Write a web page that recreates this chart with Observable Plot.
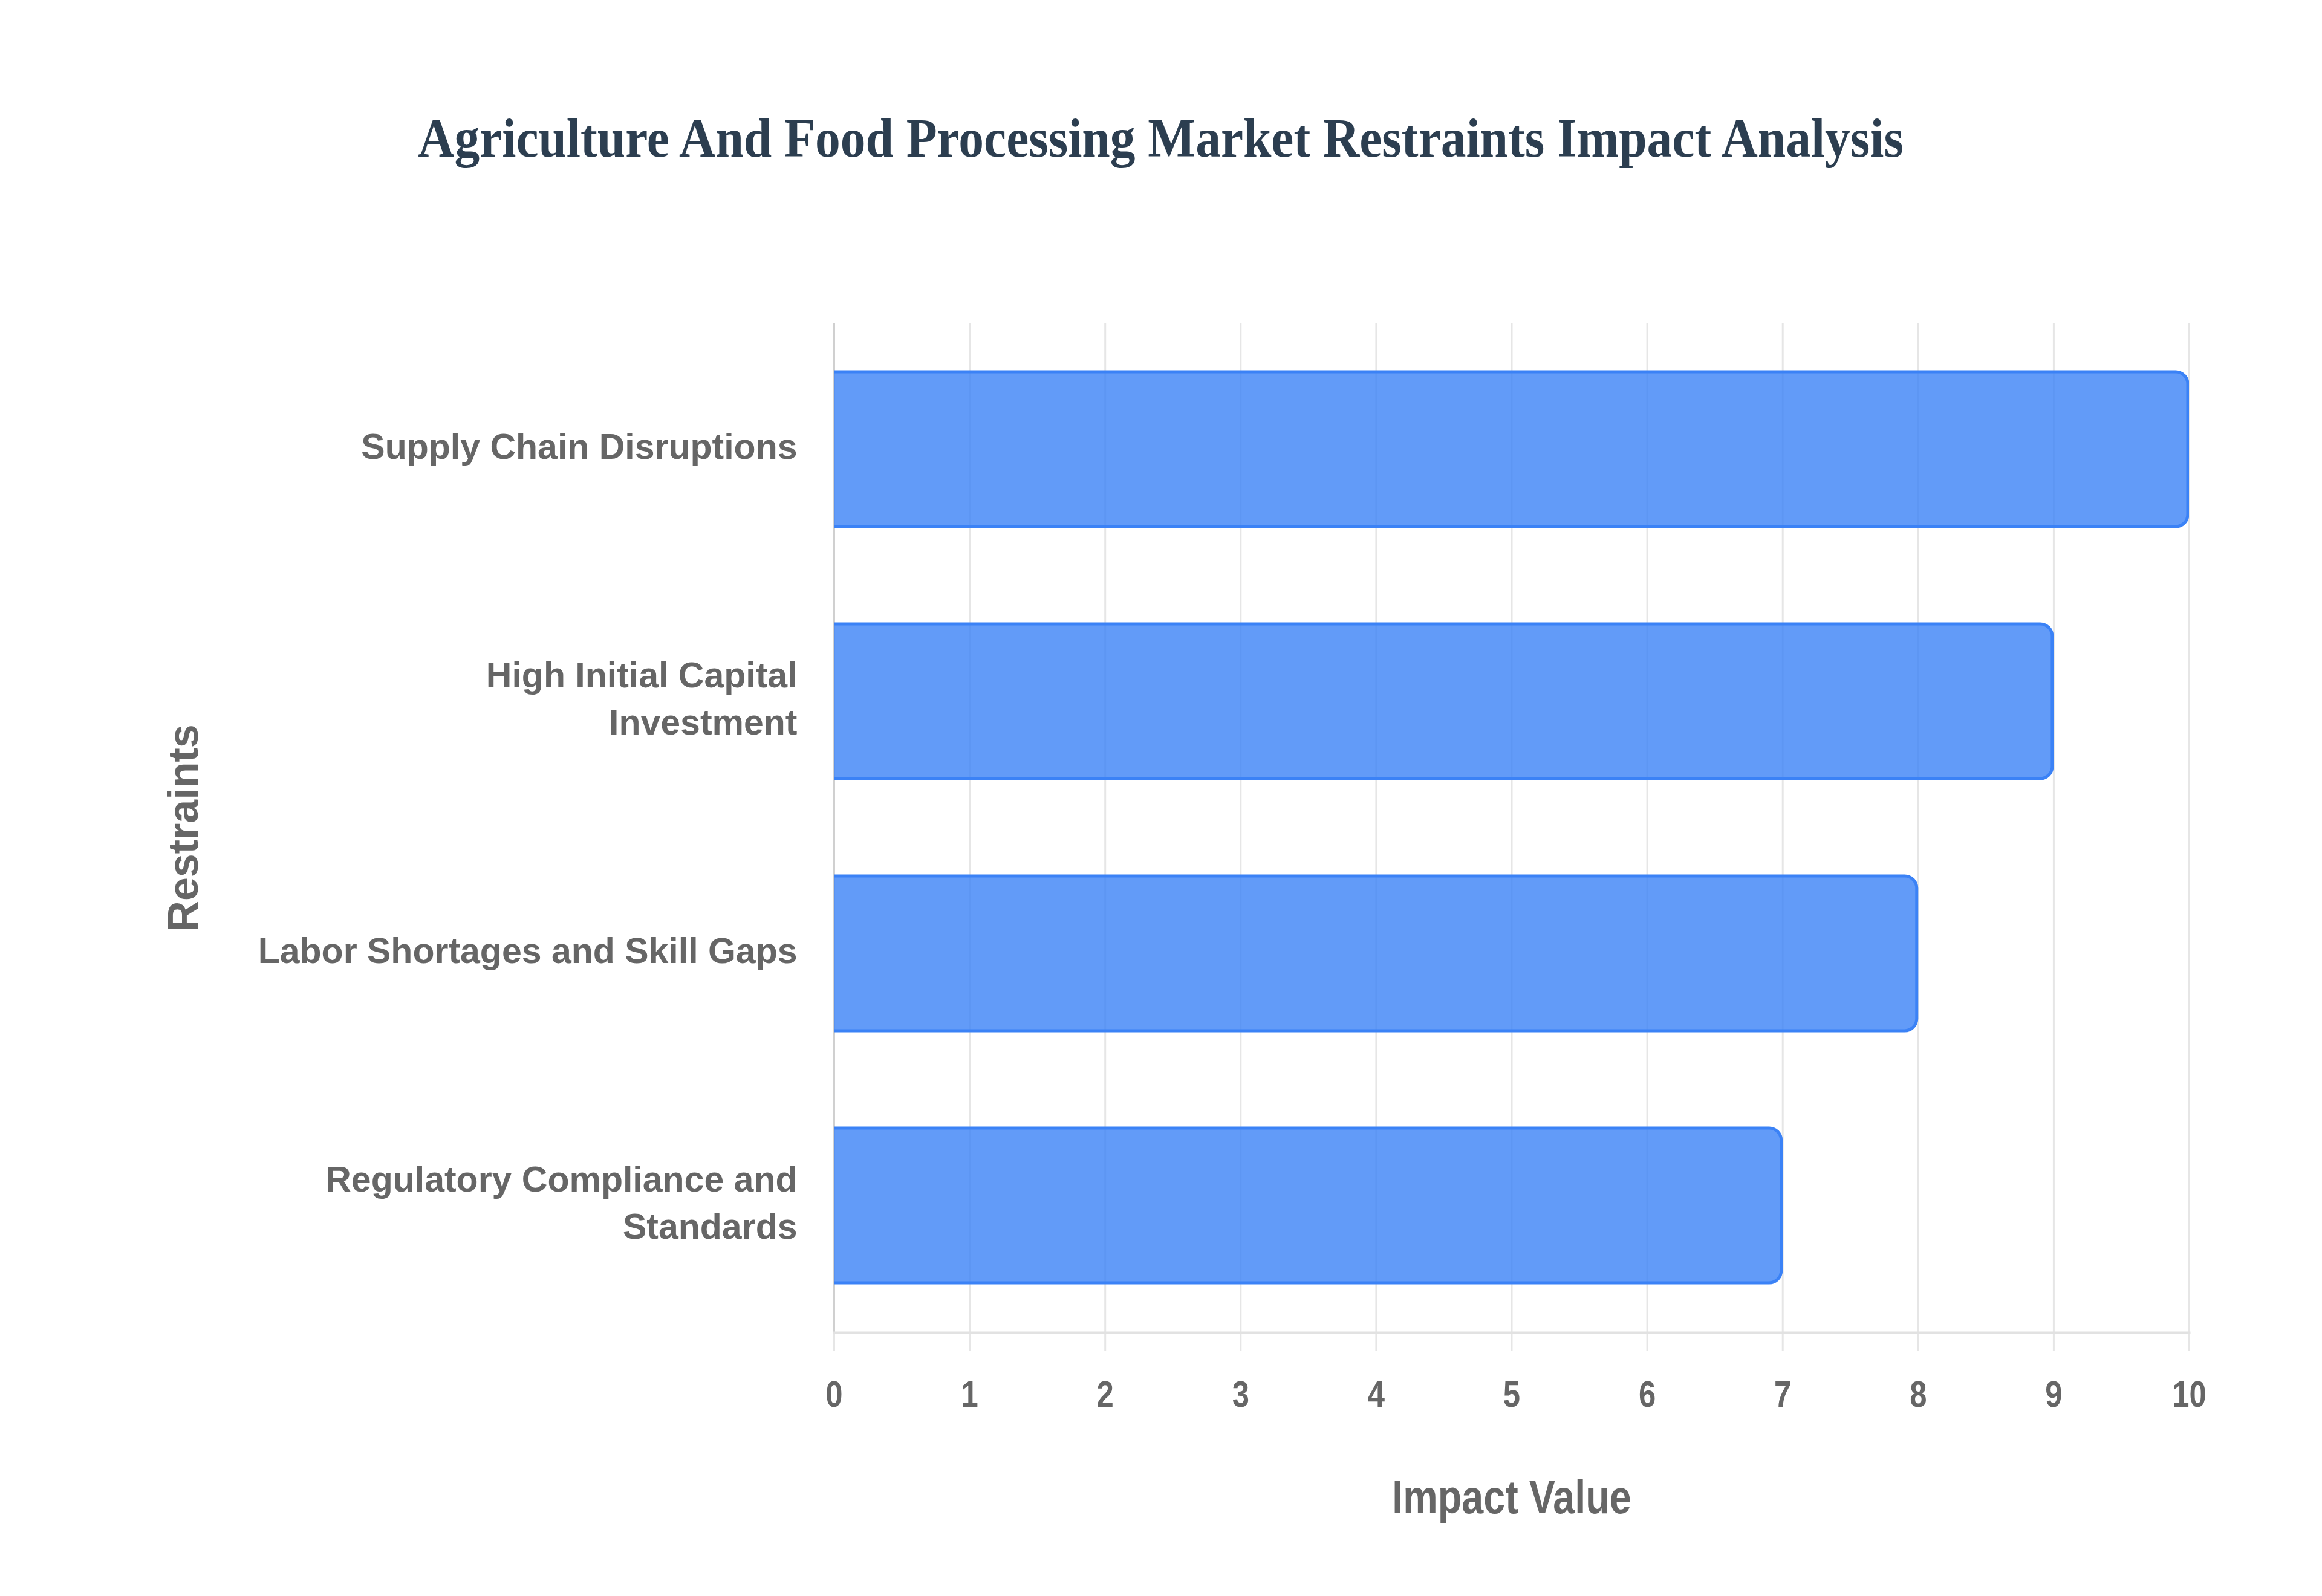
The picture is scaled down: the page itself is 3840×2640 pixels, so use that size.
<!DOCTYPE html>
<html>
<head>
<meta charset="utf-8">
<script src="https://cdn.jsdelivr.net/npm/d3@7"></script>
<script src="https://cdn.jsdelivr.net/npm/@observablehq/plot@0.6"></script>
<style>
  html, body { margin: 0; padding: 0; background: #ffffff; }
  #wrap { width: 3840px; height: 2640px; position: relative; overflow: hidden; }
  #title { width: 3840px; height: 456px; display: flex; align-items: center; justify-content: center; }
  #title span { display: inline-block; font-family: "Liberation Serif", "Times New Roman", serif; font-weight: bold; font-size: 90px; color: #2c3e50; white-space: nowrap; transform-origin: center center; }
  svg { display: block; }
</style>
</head>
<body>
<div id="wrap">
  <div id="title"><span id="titleText">Agriculture And Food Processing Market Restraints Impact Analysis</span></div>
  <div id="chart"></div>
</div>
<script>
const titleText = "Agriculture And Food Processing Market Restraints Impact Analysis";
const categories = [
  "Supply Chain Disruptions",
  "High Initial Capital Investment",
  "Labor Shortages and Skill Gaps",
  "Regulatory Compliance and Standards"
];
const categoryLabels = [
  "Supply Chain Disruptions",
  "High Initial Capital\nInvestment",
  "Labor Shortages and Skill Gaps",
  "Regulatory Compliance and\nStandards"
];
const impactValues = [10, 9, 8, 7];
const xTicks = [0, 1, 2, 3, 4, 5, 6, 7, 8, 9, 10];
const xLabel = "Impact Value";
const yLabel = "Restraints";

const data = categories.map((c, i) => ({category: c, label: categoryLabels[i], value: impactValues[i]}));

// title: condensed bold serif
(function () {
  const span = document.getElementById("titleText");
  span.textContent = titleText;
  const ctx = document.createElement("canvas").getContext("2d");
  ctx.font = 'bold 90px "Liberation Serif"';
  const w = ctx.measureText(titleText).width;
  const k = 2466 / w;
  span.style.transform = `scaleX(${k})`;
})();

const sans = '"Liberation Sans", Arial, sans-serif';
const grey = "#666666";

const chart = Plot.plot({
  width: 3840,
  height: 2184,
  marginTop: 78,
  marginBottom: 436,
  marginLeft: 1379,
  marginRight: 220,
  style: {background: "#ffffff", overflow: "visible"},
  x: {domain: [0, 10], axis: null},
  y: {domain: categories, paddingInner: 0.385, paddingOuter: 0.1925, axis: null},
  marks: [
    Plot.gridX(xTicks, {stroke: "#e6e6e6", strokeWidth: 3, strokeOpacity: 1}),
    Plot.axisX(xTicks, {
      tickSize: 30, tickPadding: 48, stroke: "#e6e6e6", strokeWidth: 3, strokeOpacity: 1,
      fill: grey, fontSize: 62, fontWeight: "bold", fontFamily: sans, label: null,
      tickFormat: d => String(d)
    }),
    Plot.ruleX([0], {stroke: "#d0d0d0", strokeWidth: 3}),
    Plot.frame({anchor: "bottom", stroke: "#e2e2e2", strokeWidth: 4}),
    Plot.barX(data, {
      x: "value", y: "category", fill: "#3b82f6", fillOpacity: 0.8,
      stroke: "#3b82f6", strokeWidth: 5, rx: 20, insetLeft: -40, insetRight: 2, clip: true
    }),
    Plot.text(data, {
      y: "category", text: "label", frameAnchor: "left", textAnchor: "end", dx: -61, dy: -9,
      lineHeight: 1.32, fontSize: 59, fontWeight: "bold", fontFamily: sans, fill: grey
    }),
    Plot.text([yLabel], {
      frameAnchor: "left", textAnchor: "middle", rotate: -90, dx: -1075, fontSize: 70, fontWeight: "bold",
      fontFamily: sans, fill: grey
    }),
    Plot.text([xLabel], {
      x: d3.mean(d3.extent(xTicks)), frameAnchor: "bottom", dy: 274, lineAnchor: "middle",
      fontSize: 77, fontWeight: "bold", fontFamily: sans, fill: grey, className: "xlab"
    })
  ]
});
document.getElementById("chart").appendChild(chart);

// condensed look for the x-axis texts (horizontal squeeze around each text's centre)
function squeeze(nodes, k) {
  nodes.forEach(t => {
    const b = t.getBBox();
    const cx = b.x + b.width / 2;
    const prev = t.getAttribute("transform") || "";
    t.setAttribute("transform", `${prev} translate(${cx},0) scale(${k},1) translate(${-cx},0)`);
  });
}
squeeze(chart.querySelectorAll('[aria-label="x-axis tick label"] text'), 0.82);
squeeze(chart.querySelectorAll('.xlab text'), 0.84);
</script>
</body>
</html>
